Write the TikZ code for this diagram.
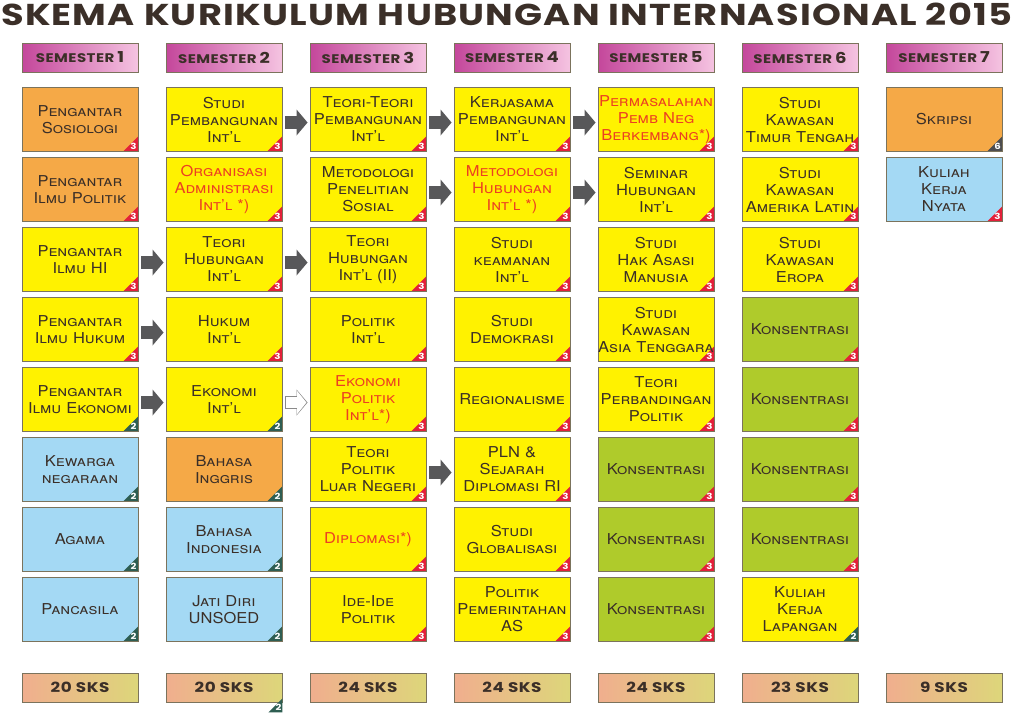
\documentclass[tikz,border=0pt]{standalone}
\usepackage{fontspec}
\usepackage{graphicx}
\setmainfont{TeX Gyre Heros}[FakeStretch=1.1]
\newfontfamily\headfont{Poppins}[FakeStretch=1.2,LetterSpace=4]
\usetikzlibrary{arrows.meta}
\hyphenpenalty=10000
\exhyphenpenalty=10000

\definecolor{ink}{HTML}{3B2F28}
\definecolor{reqred}{HTML}{EC4022}
\definecolor{cellline}{HTML}{7B735C}
\definecolor{cellyellow}{HTML}{FFF200}
\definecolor{cellorange}{HTML}{F5A947}
\definecolor{cellblue}{HTML}{A4D9F4}
\definecolor{cellgreen}{HTML}{AFCB2B}
\definecolor{semdark}{HTML}{C4479B}
\definecolor{semlight}{HTML}{F5C3E1}
\definecolor{sksleft}{HTML}{F0AE8E}
\definecolor{sksright}{HTML}{DDD67A}
\definecolor{badgered}{HTML}{E3203A}
\definecolor{badgeteal}{HTML}{2E5E52}
\definecolor{badgegrey}{HTML}{4D4D4F}
\definecolor{arrowgrey}{HTML}{58585A}
\definecolor{arrowline}{HTML}{8A8A8A}

\tikzset{
  course/.style={draw=cellline, line width=0.9pt, minimum width=116pt, minimum height=64pt,
    text width=116pt, inner sep=0pt, align=center, text=ink, font=\fontsize{15}{17}\selectfont\scshape},
  yel/.style={course, fill=cellyellow},
  ora/.style={course, fill=cellorange},
  blu/.style={course, fill=cellblue},
  gre/.style={course, fill=cellgreen},
  req/.style={text=reqred},
  badgenum/.style={text=white, inner sep=0pt, minimum size=0pt, text width=, font=\headfont\bfseries\fontsize{8.5}{8.5}\selectfont},
  badge/.style 2 args={path picture={
    \fill[#1] (path picture bounding box.south east) -- ++(-15pt,0) -- ++(15pt,15pt) -- cycle;
    \node[badgenum] at ([xshift=-4.5pt,yshift=5pt]path picture bounding box.south east) {#2};}},
  sks2/.style={badge={badgeteal}{2}},
  sks3/.style={badge={badgered}{3}},
  sks6/.style={badge={badgegrey}{6}},
  semhead/.style={draw=cellline, line width=0.9pt, left color=semdark, right color=semlight,
    minimum width=116pt, minimum height=29pt, inner sep=0pt, text=ink, font=\headfont\bfseries},
  sksbox/.style={draw=cellline, line width=0.9pt, left color=sksleft, right color=sksright,
    minimum width=116pt, minimum height=29pt, inner sep=0pt, text=ink,
    font=\headfont\bfseries\fontsize{14}{16}\selectfont},
  flow/.style={draw=arrowgrey, line width=13pt, -{Triangle[length=11pt,width=26pt,line width=0pt]},
    shorten <=3pt, shorten >=2pt},
  flowouter/.style={draw=arrowline, line width=13pt, -{Triangle[length=11pt,width=26pt,line width=0pt]},
    shorten <=3pt, shorten >=2pt},
  flowinner/.style={draw=white, line width=11.4pt, -{Triangle[length=9.4pt,width=23.2pt,line width=0pt]},
    shorten <=3.8pt, shorten >=3.1pt}
}

\begin{document}
\begin{tikzpicture}[x=1pt,y=-1pt]
  \useasboundingbox[fill=white] (0,0) rectangle (1024,713);

  % title
  \node[anchor=base west, inner sep=0pt, text=ink] (title) at (1,25)
    {\resizebox{1011pt}{22.5pt}{\headfont\bfseries SKEMA KURIKULUM HUBUNGAN INTERNASIONAL 2015}};

  % semester headers and totals
  \foreach \c/\n in {1/20,2/20,3/24,4/24,5/24,6/23,7/9} {
    \node[semhead] (h\c) at ({80+144*(\c-1)},57.5)
      {{\fontsize{12.5}{14}\selectfont SEMESTER} \fontsize{15}{16}\selectfont\c};
    \node[sksbox] (s\c) at ({80+144*(\c-1)},687.5) {\n\ SKS};
  }
  \fill[badgeteal] ([yshift=-10pt]s2.south east) -- ++(-14pt,0) -- ([yshift=4pt]s2.south east) -- cycle;
  \node[badgenum] at ([xshift=-4pt,yshift=-5pt]s2.south east) {2};

  % semester 1
  \node[ora, sks3] (c1r1) at (80,119.5) {Pengantar\\Sosiologi};
  \node[ora, sks3] (c1r2) at (80,189.5) {Pengantar\\Ilmu Politik};
  \node[yel, sks3] (c1r3) at (80,259.5) {Pengantar\\Ilmu HI};
  \node[yel, sks3] (c1r4) at (80,329.5) {Pengantar\\Ilmu Hukum};
  \node[yel, sks2] (c1r5) at (80,399.5) {Pengantar\\Ilmu~Ekonomi};
  \node[blu, sks2] (c1r6) at (80,469.5) {Kewarga\\negaraan};
  \node[blu, sks2] (c1r7) at (80,539.5) {Agama};
  \node[blu, sks2] (c1r8) at (80,609.5) {Pancasila};

  % semester 2
  \node[yel, sks3] (c2r1) at (224,119.5) {Studi\\Pembangunan\\Int’l};
  \node[yel, sks3, req] (c2r2) at (224,189.5) {Organisasi\\Administrasi\\Int’l *)};
  \node[yel, sks3] (c2r3) at (224,259.5) {Teori\\Hubungan\\Int’l};
  \node[yel, sks3] (c2r4) at (224,329.5) {Hukum\\Int’l};
  \node[yel, sks2] (c2r5) at (224,399.5) {Ekonomi\\Int’l};
  \node[ora, sks2] (c2r6) at (224,469.5) {Bahasa\\Inggris};
  \node[blu, sks2] (c2r7) at (224,539.5) {Bahasa\\Indonesia};
  \node[blu, sks2] (c2r8) at (224,609.5) {Jati Diri\\UNSOED};

  % semester 3
  \node[yel, sks3] (c3r1) at (368,119.5) {Teori-Teori\\Pembangunan\\Int’l};
  \node[yel, sks3] (c3r2) at (368,189.5) {Metodologi\\Penelitian\\Sosial};
  \node[yel, sks3] (c3r3) at (368,259.5) {Teori\\Hubungan\\Int’l (II)};
  \node[yel, sks3] (c3r4) at (368,329.5) {Politik\\Int’l};
  \node[yel, sks3, req] (c3r5) at (368,399.5) {Ekonomi\\Politik\\Int’l*)};
  \node[yel, sks3] (c3r6) at (368,469.5) {Teori\\Politik\\Luar~Negeri};
  \node[yel, sks3, req] (c3r7) at (368,539.5) {Diplomasi*)};
  \node[yel, sks3] (c3r8) at (368,609.5) {Ide-Ide\\Politik};

  % semester 4
  \node[yel, sks3] (c4r1) at (512,119.5) {Kerjasama\\Pembangunan\\Int’l};
  \node[yel, sks3, req] (c4r2) at (512,189.5) {Metodologi\\Hubungan\\Int’l *)};
  \node[yel, sks3] (c4r3) at (512,259.5) {Studi\\keamanan\\Int’l};
  \node[yel, sks3] (c4r4) at (512,329.5) {Studi\\Demokrasi};
  \node[yel, sks3] (c4r5) at (512,399.5) {Regionalisme};
  \node[yel, sks3] (c4r6) at (512,469.5) {PLN \&\\Sejarah\\Diplomasi~RI};
  \node[yel, sks3] (c4r7) at (512,539.5) {Studi\\Globalisasi};
  \node[yel, sks3] (c4r8) at (512,609.5) {Politik\\Pemerintahan\\AS};

  % semester 5
  \node[yel, sks3, req] (c5r1) at (656,119.5) {Permasalahan\\Pemb Neg\\Berkembang*)};
  \node[yel, sks3] (c5r2) at (656,189.5) {Seminar\\Hubungan\\Int’l};
  \node[yel, sks3] (c5r3) at (656,259.5) {Studi\\Hak Asasi\\Manusia};
  \node[yel, sks3] (c5r4) at (656,329.5) {Studi\\Kawasan\\Asia~Tenggara};
  \node[yel, sks3] (c5r5) at (656,399.5) {Teori\\Perbandingan\\Politik};
  \node[gre, sks3] (c5r6) at (656,469.5) {Konsentrasi};
  \node[gre, sks3] (c5r7) at (656,539.5) {Konsentrasi};
  \node[gre, sks3] (c5r8) at (656,609.5) {Konsentrasi};

  % semester 6
  \node[yel, sks3] (c6r1) at (800,119.5) {Studi\\Kawasan\\Timur~Tengah};
  \node[yel, sks3] (c6r2) at (800,189.5) {Studi\\Kawasan\\Amerika~Latin};
  \node[yel, sks3] (c6r3) at (800,259.5) {Studi\\Kawasan\\Eropa};
  \node[gre, sks3] (c6r4) at (800,329.5) {Konsentrasi};
  \node[gre, sks3] (c6r5) at (800,399.5) {Konsentrasi};
  \node[gre, sks3] (c6r6) at (800,469.5) {Konsentrasi};
  \node[gre, sks3] (c6r7) at (800,539.5) {Konsentrasi};
  \node[yel, sks2] (c6r8) at (800,609.5) {Kuliah\\Kerja\\Lapangan};

  % semester 7
  \node[ora, sks6] (c7r1) at (944,119.5) {Skripsi};
  \node[blu, sks3] (c7r2) at (944,189.5) {Kuliah\\Kerja\\Nyata};

  % prerequisite arrows
  \draw[flow] ([yshift=-3pt]c2r1.east) -- ([yshift=-3pt]c3r1.west);
  \draw[flow] ([yshift=-3pt]c3r1.east) -- ([yshift=-3pt]c4r1.west);
  \draw[flow] ([yshift=-3pt]c4r1.east) -- ([yshift=-3pt]c5r1.west);
  \draw[flow] ([yshift=-3pt]c3r2.east) -- ([yshift=-3pt]c4r2.west);
  \draw[flow] ([yshift=-3pt]c4r2.east) -- ([yshift=-3pt]c5r2.west);
  \draw[flow] ([yshift=-3pt]c1r3.east) -- ([yshift=-3pt]c2r3.west);
  \draw[flow] ([yshift=-3pt]c2r3.east) -- ([yshift=-3pt]c3r3.west);
  \draw[flow] ([yshift=-3pt]c1r4.east) -- ([yshift=-3pt]c2r4.west);
  \draw[flow] ([yshift=-3pt]c1r5.east) -- ([yshift=-3pt]c2r5.west);
  \draw[flow] ([yshift=-3pt]c3r6.east) -- ([yshift=-3pt]c4r6.west);
  % open arrow
  \draw[flowouter] ([yshift=-3pt]c2r5.east) -- ([yshift=-3pt]c3r5.west);
  \draw[flowinner] ([yshift=-3pt]c2r5.east) -- ([yshift=-3pt]c3r5.west);
\end{tikzpicture}
\end{document}
